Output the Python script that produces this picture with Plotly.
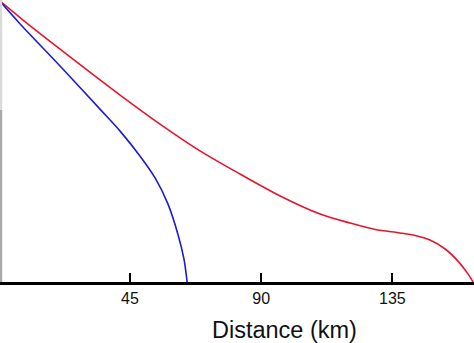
import plotly.graph_objects as go

# Distance (km) vs. normalized profile height
red_x = [0, 8.3, 21.0, 41.6, 55.3, 69.0, 82.7, 96.5, 110.2, 120.5, 129.1, 137.6, 142.8, 147.9, 153.1, 157.5, 161.0, 162.7]
red_y = [100, 92.9, 82.6, 66.3, 56.0, 46.5, 38.3, 30.5, 24.1, 20.9, 18.6, 17.4, 16.5, 14.9, 11.7, 7.4, 2.8, 0]

blue_x = [0, 7.3, 21.0, 34.7, 41.6, 48.4, 53.6, 58.0, 61.5, 63.5, 64.6]
blue_y = [100, 91.5, 76.6, 61.3, 53.5, 44.7, 36.9, 27.7, 16.7, 8.2, 0]

tick_vals = [45, 90, 135]
tick_text = ["45", "90", "135"]
x_title = "Distance (km)"

fig = go.Figure()
fig.add_trace(go.Scatter(x=red_x, y=red_y, mode="lines",
                         line=dict(color="#e8142d", width=1.6, shape="spline", smoothing=0.8),
                         showlegend=False, hoverinfo="skip"))
fig.add_trace(go.Scatter(x=blue_x, y=blue_y, mode="lines",
                         line=dict(color="#1c1cd0", width=1.6, shape="spline", smoothing=0.8),
                         showlegend=False, hoverinfo="skip"))

# left edge gray strip (as in the reference image)
fig.add_shape(type="line", xref="paper", yref="paper", x0=0.002, x1=0.002, y0=0.61, y1=1,
              line=dict(color="#dadada", width=2.5))
fig.add_shape(type="line", xref="paper", yref="paper", x0=0.002, x1=0.002, y0=0, y1=0.61,
              line=dict(color="#a9a9a9", width=2.5))

fig.add_annotation(text=x_title, xref="paper", yref="paper", x=0.601, y=-0.17,
                   showarrow=False, font=dict(family="Arial, Liberation Sans, sans-serif",
                                              size=23.5, color="#111"),
                   yanchor="middle", xanchor="center")

fig.update_layout(
    width=474, height=343,
    margin=dict(l=0, r=0, t=0, b=61),
    paper_bgcolor="white", plot_bgcolor="white",
    xaxis=dict(range=[0.4, 163], tickmode="array", tickvals=tick_vals, ticktext=tick_text,
               ticks="inside", ticklen=9, tickwidth=2, tickcolor="black",
               showline=True, linecolor="black", linewidth=2.5,
               showgrid=False, zeroline=False,
               tickfont=dict(family="Arial, Liberation Sans, sans-serif", size=16, color="#111")),
    yaxis=dict(range=[0, 100], visible=False, showgrid=False, zeroline=False),
)

fig.write_html("out.html")
